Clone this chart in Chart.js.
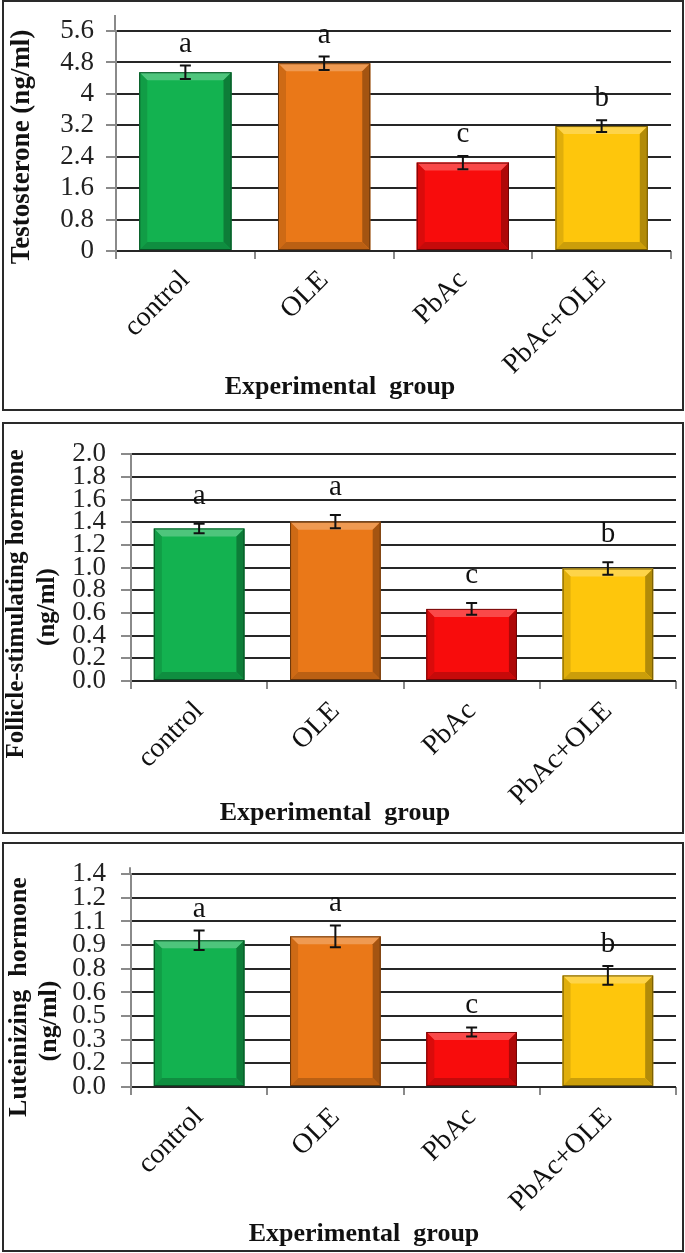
<!DOCTYPE html>
<html>
<head>
<meta charset="utf-8">
<script src="https://cdn.jsdelivr.net/npm/chart.js@4.4.1/dist/chart.umd.min.js"></script>
<style>
  html, body { margin: 0; padding: 0; background: #fff; }
  body { width: 685px; height: 1253px; position: relative; overflow: hidden; }
  canvas { position: absolute; left: 0; }
  .box { position: absolute; left: 2px; width: 682px; border: 2px solid #2a2a2a; box-sizing: border-box; pointer-events: none; }
</style>
</head>
<body>
<canvas id="c1" width="685" height="411" style="top:0px;width:685px;height:411px"></canvas>
<canvas id="c2" width="685" height="410" style="top:423px;width:685px;height:410px"></canvas>
<canvas id="c3" width="685" height="409" style="top:843px;width:685px;height:409px"></canvas>
<div class="box" style="top:0px;height:411px"></div>
<div class="box" style="top:422px;height:412px"></div>
<div class="box" style="top:842px;height:410px"></div>
<script>
// ---------------- DATA ----------------
const categories = ['control', 'OLE', 'PbAc', 'PbAc+OLE'];

const testosteroneMeans = [4.55, 4.78, 2.25, 3.18];
const testosteroneErrors = [0.17, 0.17, 0.17, 0.15];
const testosteroneLetters = ['a', 'a', 'c', 'b'];
const testosteroneTickLabels = ['0', '0.8', '1.6', '2.4', '3.2', '4', '4.8', '5.6'];

const fshMeans = [1.345, 1.405, 0.636, 0.992];
const fshErrors = [0.041, 0.058, 0.051, 0.055];
const fshLetters = ['a', 'a', 'c', 'b'];
const fshTickLabels = ['0.0', '0.2', '0.4', '0.6', '0.8', '1.0', '1.2', '1.4', '1.6', '1.8', '2.0'];

const lhMeans = [0.965, 0.991, 0.362, 0.734];
const lhErrors = [0.064, 0.072, 0.030, 0.062];
const lhLetters = ['a', 'a', 'c', 'b'];
const lhTickLabels = ['0.0', '0.2', '0.3', '0.5', '0.6', '0.8', '0.9', '1.1', '1.2', '1.4'];
const lhAxisMax = 1.4;

const xTitle = 'Experimental  group';
const testosteroneTitle = ['Testosterone (ng/ml)'];
const fshTitle = ['Follicle-stimulating hormone', '(ng/ml)'];
const lhTitle = ['Luteinizing  hormone', '(ng/ml)'];

const barColors = ['#13b250', '#ea7818', '#f80c0c', '#fec60c'];

// ---------------- HELPERS ----------------
const SERIF = "'Liberation Serif', 'Times New Roman', serif";

function hexToRgb(h) {
  const n = parseInt(h.slice(1), 16);
  return [(n >> 16) & 255, (n >> 8) & 255, n & 255];
}
function shade(hex, amt) {
  const [r, g, b] = hexToRgb(hex);
  const f = (c) => amt >= 0 ? Math.round(c + (255 - c) * amt) : Math.round(c * (1 + amt));
  return `rgb(${f(r)},${f(g)},${f(b)})`;
}
function poly(ctx, pts, fill) {
  ctx.beginPath();
  ctx.moveTo(pts[0][0], pts[0][1]);
  for (let i = 1; i < pts.length; i++) ctx.lineTo(pts[i][0], pts[i][1]);
  ctx.closePath();
  ctx.fillStyle = fill;
  ctx.fill();
}

function makeDecor(cfg) {
  return {
    id: 'decor',
    afterDatasetsDraw(chart) {
      const ctx = chart.ctx;
      const meta = chart.getDatasetMeta(0);
      const yScale = chart.scales.y;
      const values = chart.data.datasets[0].data;
      ctx.save();
      meta.data.forEach((bar, i) => {
        const p = bar.getProps(['x', 'y', 'base', 'width'], true);
        const x0 = p.x - p.width / 2, x1 = p.x + p.width / 2;
        const top = p.y, bot = p.base;
        const b = 8;
        const col = barColors[i];
        poly(ctx, [[x0, top], [x1, top], [x1 - b, top + b], [x0 + b, top + b]], shade(col, 0.25));
        poly(ctx, [[x0, top], [x0 + b, top + b], [x0 + b, bot - b], [x0, bot]], shade(col, -0.12));
        poly(ctx, [[x1, top], [x1 - b, top + b], [x1 - b, bot - b], [x1, bot]], shade(col, -0.3));
        poly(ctx, [[x0, bot], [x0 + b, bot - b], [x1 - b, bot - b], [x1, bot]], shade(col, -0.2));
        ctx.strokeStyle = shade(col, -0.55);
        ctx.lineWidth = 1;
        ctx.strokeRect(x0 + 0.5, top + 0.5, p.width - 1, bot - top - 1);

        // error bar
        const v = values[i], e = cfg.errors[i];
        const yt = yScale.getPixelForValue(v + e);
        const yb = yScale.getPixelForValue(v - e);
        ctx.strokeStyle = '#111';
        ctx.lineWidth = 2;
        ctx.beginPath();
        ctx.moveTo(p.x, yt); ctx.lineTo(p.x, yb);
        ctx.moveTo(p.x - 5.5, yt); ctx.lineTo(p.x + 5.5, yt);
        ctx.moveTo(p.x - 5.5, yb); ctx.lineTo(p.x + 5.5, yb);
        ctx.stroke();

        // significance letter
        ctx.fillStyle = '#111';
        ctx.font = `29px ${SERIF}`;
        ctx.textAlign = 'center';
        ctx.textBaseline = 'alphabetic';
        ctx.fillText(cfg.letters[i], p.x, yt - cfg.letterGap + 7);
      });
      ctx.restore();
    },
    afterDraw(chart) {
      const ctx = chart.ctx;
      const area = chart.chartArea;
      ctx.save();
      // y axis line continues a little above the top gridline
      if (cfg.axisExtend > 0) {
        ctx.strokeStyle = '#8a8a8a';
        ctx.lineWidth = 2;
        ctx.beginPath();
        ctx.moveTo(area.left - 1, area.top);
        ctx.lineTo(area.left - 1, area.top - cfg.axisExtend);
        ctx.stroke();
      }
      ctx.fillStyle = '#111';
      ctx.textBaseline = 'middle';
      ctx.textAlign = 'center';
      cfg.yTitles.forEach((t) => {
        ctx.save();
        ctx.font = `bold ${t.size}px ${SERIF}`;
        ctx.translate(t.x, t.y);
        ctx.rotate(-Math.PI / 2);
        ctx.fillText(t.text, 0, 0);
        ctx.restore();
      });
      ctx.font = `bold ${cfg.xTitle.size}px ${SERIF}`;
      ctx.fillText(xTitle, cfg.xTitle.x, cfg.xTitle.y);
      ctx.restore();
    }
  };
}

function makeChart(id, cfg) {
  const n = cfg.tickLabels.length;
  const max = cfg.max;
  return new Chart(document.getElementById(id), {
    type: 'bar',
    data: {
      labels: categories,
      datasets: [{
        data: cfg.means,
        backgroundColor: barColors,
        borderWidth: 0,
        categoryPercentage: 1.0,
        barPercentage: 0.665
      }]
    },
    options: {
      responsive: false,
      animation: false,
      devicePixelRatio: 1,
      layout: { padding: cfg.padding },
      plugins: { legend: { display: false }, tooltip: { enabled: false } },
      scales: {
        x: {
          afterFit(scale) { scale.height = cfg.xHeight; },
          grid: { display: true, drawOnChartArea: false, offset: true, tickLength: 8, color: '#8a8a8a', lineWidth: 2 },
          border: { display: false },
          ticks: {
            color: '#111',
            font: { family: SERIF, size: 28 },
            maxRotation: 45, minRotation: 45,
            padding: cfg.xPad,
            autoSkip: false
          }
        },
        y: {
          min: 0,
          max: max,
          afterFit(scale) { scale.width = cfg.yWidth; },
          afterBuildTicks(scale) {
            scale.ticks = cfg.tickLabels.map((_, i) => ({ value: i * max / (n - 1) }));
          },
          grid: { color: '#262626', lineWidth: 2, tickLength: 10, tickColor: '#8a8a8a' },
          border: { display: true, color: '#8a8a8a', width: 2 },
          ticks: {
            color: '#222',
            font: { family: SERIF, size: 27 },
            padding: cfg.yPad,
            autoSkip: false,
            callback: (val, idx) => cfg.tickLabels[idx]
          }
        }
      }
    },
    plugins: [makeDecor(cfg)]
  });
}

makeChart('c1', {
  means: testosteroneMeans, errors: testosteroneErrors, letters: testosteroneLetters,
  tickLabels: testosteroneTickLabels, max: parseFloat(testosteroneTickLabels[testosteroneTickLabels.length - 1]),
  padding: { left: 0, right: 14, top: 31, bottom: 0 },
  yWidth: 116, xHeight: 160, xPad: 5, yPad: 12, letterGap: 21, axisExtend: 16,
  yTitles: [{ text: testosteroneTitle[0], x: 22, y: 147, size: 27 }],
  xTitle: { x: 340, y: 387, size: 26 }
});

makeChart('c2', {
  means: fshMeans, errors: fshErrors, letters: fshLetters,
  tickLabels: fshTickLabels, max: parseFloat(fshTickLabels[fshTickLabels.length - 1]),
  padding: { left: 0, right: 9, top: 16, bottom: 0 },
  yWidth: 131, xHeight: 152, xPad: 6, yPad: 15, letterGap: 27, axisExtend: 0,
  yTitles: [
    { text: fshTitle[0], x: 17, y: 181, size: 25 },
    { text: fshTitle[1], x: 48, y: 184, size: 25 }
  ],
  xTitle: { x: 335, y: 390, size: 26 }
});

makeChart('c3', {
  means: lhMeans, errors: lhErrors, letters: lhLetters,
  tickLabels: lhTickLabels, max: lhAxisMax,
  padding: { left: 0, right: 9, top: 26, bottom: 0 },
  yWidth: 131, xHeight: 165, xPad: 6, yPad: 15, letterGap: 21, axisExtend: 7,
  yTitles: [
    { text: lhTitle[0], x: 19, y: 154, size: 26 },
    { text: lhTitle[1], x: 49, y: 178, size: 26 }
  ],
  xTitle: { x: 364, y: 391, size: 26 }
});
</script>
</body>
</html>
